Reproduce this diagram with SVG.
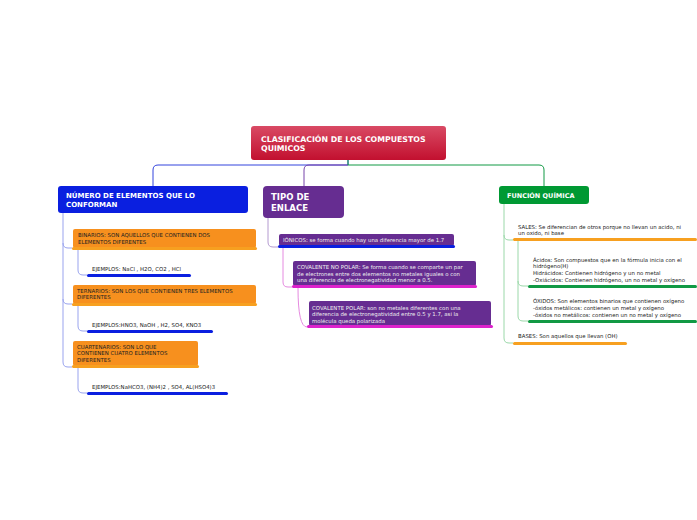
<svg xmlns="http://www.w3.org/2000/svg" width="697" height="520" viewBox="0 0 697 520">
<defs>
<linearGradient id="rg" x1="0" y1="0" x2="0" y2="1"><stop offset="0" stop-color="#d94a64"/><stop offset="1" stop-color="#c2102f"/></linearGradient>
</defs>
<style>
text{font-family:"DejaVu Sans",Verdana,sans-serif}
.h{font-weight:bold;fill:#fff;font-size:7px}
.s{font-size:5.4px;fill:#222}
.w{font-size:5.4px;fill:#eee}
.c{fill:none;stroke-width:1}
</style>
<rect width="697" height="520" fill="#fff"/>
<g id="connectors">
<path class="c" stroke="#3344dd" d="M348,160 V165 H158 Q153,165 153,170 V186"/>
<path class="c" stroke="#7744aa" d="M348,165 H309 Q304,165 304,170 V186"/>
<path class="c" stroke="#119944" d="M348,160 V165 H539 Q544,165 544,170 V186"/>
<path class="c" stroke="#99a3ee" d="M63,213 V362 Q63,367 68,367 H72 M63,243 Q63,248 68,248 H72 M63,299 Q63,304 68,304 H72"/>
<path class="c" stroke="#99a3ee" d="M78,249 V270 Q78,275 83,275 H87 M78,305 V326 Q78,331 83,331 H87 M78,368 V388 Q78,393 83,393 H87"/>
<path class="c" stroke="#b49ad0" d="M268,218 V242 Q268,247 273,247 H278"/>
<path class="c" stroke="#e58ae0" d="M283,248 V282 Q283,287 288,287 H292"/>
<path class="c" stroke="#e58ae0" d="M298,288 Q298,327 307,327"/>
<path class="c" stroke="#9bd8a9" d="M504,204 V338 Q504,343 509,343 H513 M504,235 Q504,240 509,240 H513"/>
<path class="c" stroke="#9bd8a9" d="M518,241 V281 Q518,286 523,286 H528 M518,281 V316 Q518,321 523,321 H528"/>
</g>
<g id="root"><rect x="251" y="126" width="195" height="34" rx="3" fill="url(#rg)"/>
<text class="h" style="font-size:7.8px" x="261" y="142">CLASIFICACIÓN DE LOS COMPUESTOS</text><text class="h" style="font-size:7.8px" x="261" y="151">QUIMICOS</text></g>
<g id="n1"><rect x="58" y="186" width="190" height="27" rx="3" fill="#0a1fe0"/>
<text class="h" x="66" y="198">NÚMERO DE ELEMENTOS QUE LO</text><text class="h" x="66" y="207">CONFORMAN</text></g>
<g id="n2"><rect x="263" y="186" width="81" height="32" rx="4" fill="#662d91"/>
<text class="h" style="font-size:8.5px" x="271" y="200">TIPO DE</text><text class="h" style="font-size:8.5px" x="271" y="211">ENLACE</text></g>
<g id="n3"><rect x="499" y="186" width="90" height="18" rx="3" fill="#009933"/>
<text class="h" style="font-size:6.5px" x="507" y="198">FUNCIÓN QUÍMICA</text></g>
<g id="bin"><rect x="73" y="229" width="183" height="19" rx="2" fill="#f7901e"/><rect x="72" y="247" width="185" height="3" rx="1.5" fill="#f7a020"/>
<text class="s" x="78" y="237">BINARIOS: SON AQUELLOS QUE CONTIENEN DOS</text><text class="s" x="78" y="244">ELEMENTOS DIFERENTES</text></g>
<g id="ej1"><text class="s" x="92" y="271">EJEMPLOS: NaCl , H2O, CO2 , HCl</text><rect x="87" y="274" width="104" height="3" rx="1.5" fill="#0a1fe0"/></g>
<g id="ter"><rect x="73" y="285" width="183" height="19" rx="2" fill="#f7901e"/><rect x="72" y="303" width="185" height="3" rx="1.5" fill="#f7a020"/>
<text class="s" x="77" y="293">TERNARIOS: SON LOS QUE CONTIENEN TRES ELEMENTOS</text><text class="s" x="77" y="299">DIFERENTES</text></g>
<g id="ej2"><text class="s" x="92" y="327">EJEMPLOS:HNO3, NaOH , H2, SO4, KNO3</text><rect x="87" y="330" width="126" height="3" rx="1.5" fill="#0a1fe0"/></g>
<g id="cua"><rect x="73" y="341" width="125" height="25" rx="2" fill="#f7901e"/><rect x="72" y="365" width="127" height="3" rx="1.5" fill="#f7a020"/>
<text class="s" x="77" y="349">CUARTENARIOS: SON LO QUE</text><text class="s" x="77" y="355">CONTIENEN CUATRO ELEMENTOS</text><text class="s" x="77" y="362">DIFERENTES</text></g>
<g id="ej3"><text class="s" x="92" y="389">EJEMPLOS:NaHCO3, (NH4)2 , SO4, AL(HSO4)3</text><rect x="87" y="392" width="141" height="3" rx="1.5" fill="#0a1fe0"/></g>
<g id="ion"><rect x="279" y="234" width="175" height="12" rx="2" fill="#662d91"/><rect x="278" y="245" width="177" height="3" rx="1.5" fill="#0a1fe0"/>
<text class="w" x="283" y="242">IÓNICOS: se forma cuando hay una diferencia mayor de 1.7</text></g>
<g id="cnp"><rect x="293" y="261" width="183" height="25" rx="2" fill="#662d91"/><rect x="292" y="285" width="185" height="3" rx="1.5" fill="#dd22cc"/>
<text class="w" x="297" y="269">COVALENTE NO POLAR: Se forma cuando se comparte un par</text><text class="w" x="297" y="276">de electrones entre dos elementos no metales iguales o con</text><text class="w" x="297" y="282">una diferencia de electronegatividad menor a 0.5.</text></g>
<g id="cp"><rect x="309" y="301" width="182" height="25" rx="2" fill="#662d91"/><rect x="307" y="325" width="186" height="3" rx="1.5" fill="#dd22cc"/>
<text class="w" x="312" y="310">COVALENTE POLAR: son no metales diferentes con una</text><text class="w" x="312" y="316">diferencia de electronegatividad entre 0.5 y 1.7, asi la</text><text class="w" x="312" y="323">molécula queda polarizada</text></g>
<g id="sales"><text class="s" x="518" y="229">SALES: Se diferencian de otros porque no llevan un acido, ni</text><text class="s" x="518" y="235">un oxido, ni base</text><rect x="513" y="238" width="184" height="3" rx="1.5" fill="#f7a020"/></g>
<g id="acidos"><text class="s" x="533" y="262">Ácidos: Son compuestos que en la fórmula inicia con el</text><text class="s" x="533" y="268">hidrógeno(H)</text><text class="s" x="533" y="275">Hidrácidos: Contienen hidrógeno y un no metal</text><text class="s" x="533" y="282">-Oxiácidos: Contienen hidrógeno, un no metal y oxígeno</text><rect x="528" y="285" width="169" height="3" rx="1.5" fill="#119944"/></g>
<g id="oxidos"><text class="s" x="533" y="303">ÓXIDOS: Son elementos binarios que contienen oxígeno</text><text class="s" x="533" y="310">-óxidos metálicos: contienen un metal y oxígeno</text><text class="s" x="533" y="317">-óxidos no metálicos: contienen un no metal y oxígeno</text><rect x="528" y="320" width="169" height="3" rx="1.5" fill="#119944"/></g>
<g id="bases"><text class="s" x="518" y="338">BASES: Son aquellos que llevan (OH)</text><rect x="513" y="342" width="114" height="3" rx="1.5" fill="#f7a020"/></g>
</svg>
